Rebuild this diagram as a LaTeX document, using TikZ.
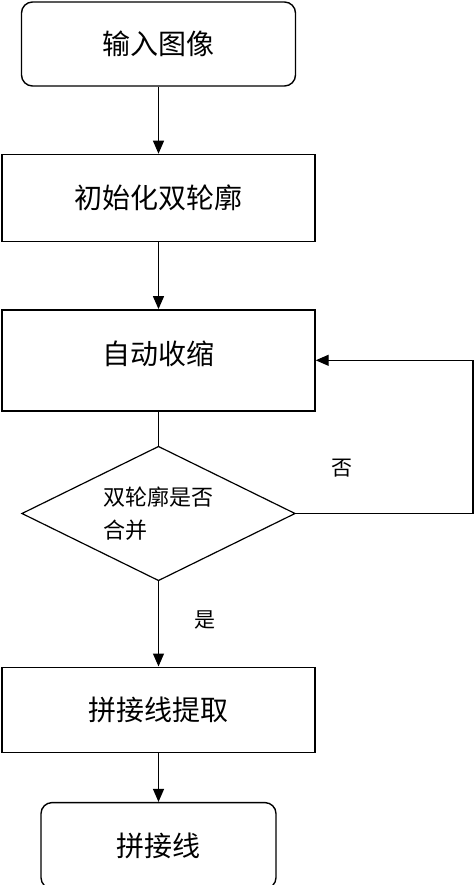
\documentclass[tikz,border=0pt]{standalone}
\usepackage{fontspec}
\newfontfamily\cjk{Noto Sans CJK SC}
\usepackage{tikz}
\usetikzlibrary{arrows.meta,positioning,shapes.geometric}

\begin{document}
\begin{tikzpicture}[x=1pt, y=-1pt, font=\cjk\fontsize{28}{30}\selectfont,
    procbox/.style={draw,line width=1.4pt,minimum width=313pt},
    termbox/.style={draw,line width=1.4pt,rounded corners=11pt},
    decbox/.style={draw,line width=1.2pt,diamond,aspect=2.04,inner sep=0pt,outer sep=0pt,minimum width=273pt,minimum height=134pt,align=left,font=\cjk\fontsize{22}{33}\selectfont},
    lbl/.style={font=\cjk\fontsize{21}{22}\selectfont},
    flow/.style={-{Triangle[length=13pt,width=11pt]},line width=1.2pt}]
  \useasboundingbox (0,0) rectangle (474,885);
  \node[termbox,minimum width=274pt,minimum height=84pt] (input) at (158.5,44) {输入图像};
  \node[procbox,minimum height=87pt,below=67pt of input] (init) {初始化双轮廓};
  \node[procbox,minimum height=101pt,below=67pt of init,align=center] (shrink) {自动收缩\\[-15pt]\mbox{}};
  \node[decbox,below=35pt of shrink] (merge) {双轮廓是否\\合并};
  \node[procbox,minimum height=85pt,below=86pt of merge] (extract) {拼接线提取};
  \node[termbox,minimum width=235pt,minimum height=86pt,below=49pt of extract] (seam) {拼接线};
  \coordinate (back) at ([xshift=178pt]merge.east);
  \node[lbl] (no) at (342,468) {否};
  \node[lbl] (yes) at (205,620) {是};
  \draw[flow] (input) -- (init);
  \draw[flow] (init) -- (shrink);
  \draw[line width=1.2pt] (shrink) -- (merge);
  \draw[flow] (merge) -- (extract);
  \draw[flow] (extract) -- (seam);
  \draw[flow] (merge.east) -- (back) |- (shrink.east);
\end{tikzpicture}
\end{document}
